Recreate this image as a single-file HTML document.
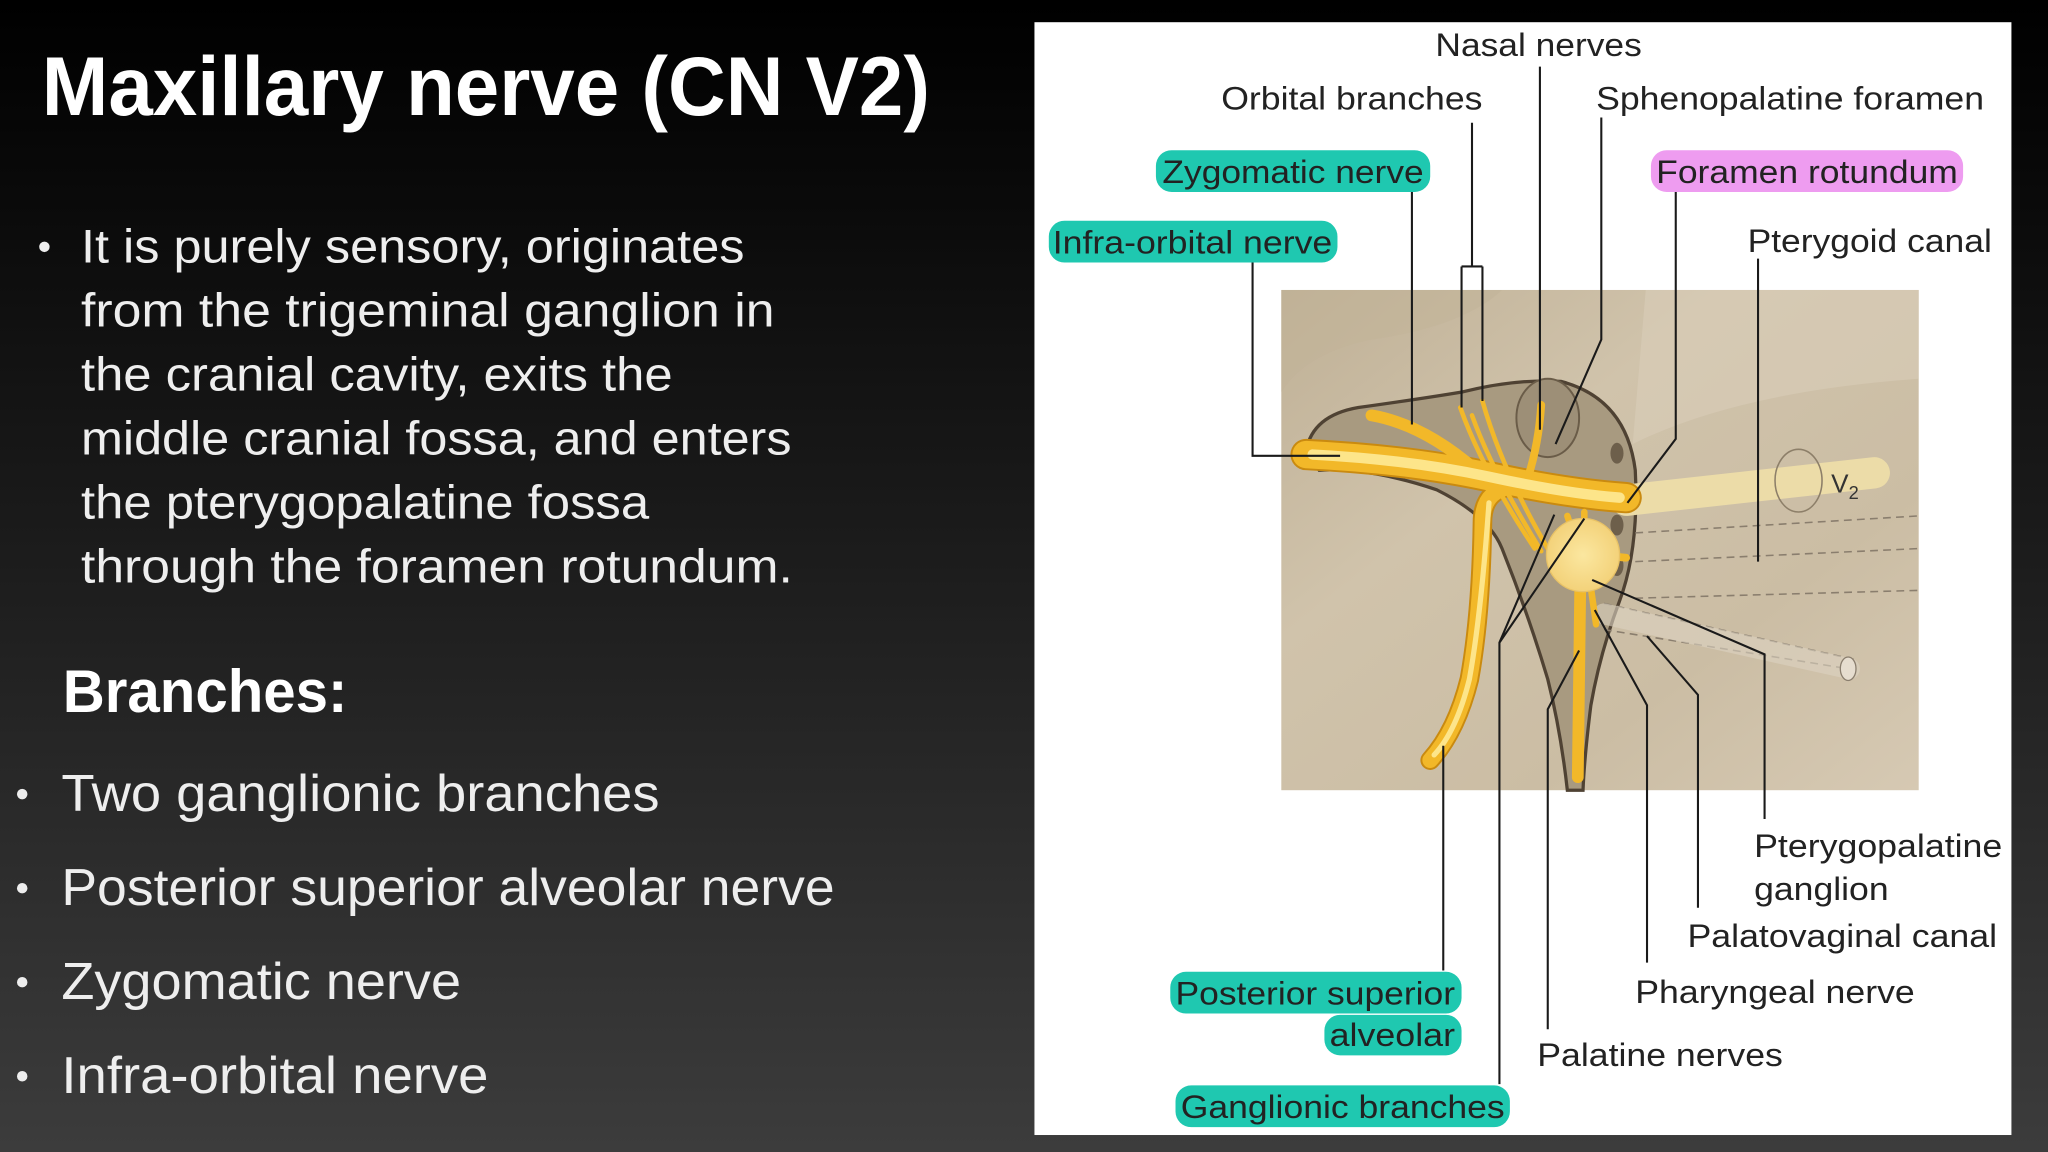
<!DOCTYPE html>
<html><head><meta charset="utf-8"><style>
html,body{margin:0;padding:0;background:#000;}
svg{display:block;}
</style></head><body>
<svg width="2048" height="1152" viewBox="0 0 1568 882" xmlns="http://www.w3.org/2000/svg" font-family="Liberation Sans, Arial, sans-serif">
<defs>
<linearGradient id="bg" x1="0" y1="0" x2="0" y2="1">
<stop offset="0" stop-color="#000"/><stop offset="0.5" stop-color="#1d1d1d"/><stop offset="1" stop-color="#3c3c3c"/>
</linearGradient>
<linearGradient id="ph" x1="0" y1="0" x2="1" y2="1">
<stop offset="0" stop-color="#bfb096"/><stop offset="0.35" stop-color="#d0c3ab"/><stop offset="0.7" stop-color="#cbbda4"/><stop offset="1" stop-color="#d6c9b3"/>
</linearGradient>
<radialGradient id="gang" cx="0.5" cy="0.5" r="0.5"><stop offset="0" stop-color="#fbe7a0"/><stop offset="1" stop-color="#f3d27a"/></radialGradient>
</defs>
<rect width="1568" height="882" fill="url(#bg)"/>
<text x="32" y="88" fill="#fff" font-size="64" font-weight="bold" textLength="680" lengthAdjust="spacingAndGlyphs">Maxillary nerve (CN V2)</text>
<g fill="#eeeeee" font-size="36">
<circle cx="34" cy="189" r="4"/>
<text x="62" y="201" textLength="508" lengthAdjust="spacingAndGlyphs">It is purely sensory, originates</text>
<text x="62" y="250" textLength="531" lengthAdjust="spacingAndGlyphs">from the trigeminal ganglion in</text>
<text x="62" y="299" textLength="453" lengthAdjust="spacingAndGlyphs">the cranial cavity, exits the</text>
<text x="62" y="348" textLength="544" lengthAdjust="spacingAndGlyphs">middle cranial fossa, and enters</text>
<text x="62" y="397" textLength="435" lengthAdjust="spacingAndGlyphs">the pterygopalatine fossa</text>
<text x="62" y="446" textLength="545" lengthAdjust="spacingAndGlyphs">through the foramen rotundum.</text>
</g>
<text x="48" y="545" fill="#fff" font-size="46" font-weight="bold" textLength="218" lengthAdjust="spacingAndGlyphs">Branches:</text>
<g fill="#eeeeee" font-size="40">
<circle cx="17" cy="608" r="4"/><text x="47" y="621" textLength="458" lengthAdjust="spacingAndGlyphs">Two ganglionic branches</text>
<circle cx="17" cy="680" r="4"/><text x="47" y="693" textLength="592" lengthAdjust="spacingAndGlyphs">Posterior superior alveolar nerve</text>
<circle cx="17" cy="752" r="4"/><text x="47" y="765" textLength="306" lengthAdjust="spacingAndGlyphs">Zygomatic nerve</text>
<circle cx="17" cy="824" r="4"/><text x="47" y="837" textLength="327" lengthAdjust="spacingAndGlyphs">Infra-orbital nerve</text>
</g>
<rect x="792" y="17" width="748" height="852" fill="#fff"/>
<rect x="981" y="222" width="488" height="383" fill="url(#ph)"/>
<path d="M981 222 L1150 222 Q1120 250 1050 260 Q1000 270 981 300Z" fill="#c2b398" opacity="0.5"/>
<path d="M1250 340 Q1330 300 1469 290 L1469 222 L1260 222 Z" fill="#dbd0bb" opacity="0.5"/>
<path d="M1000 345 Q1005 318 1040 312 Q1090 305 1120 300 Q1160 290 1195 292 Q1245 305 1252 360 Q1255 420 1240 460 Q1225 500 1218 540 Q1213 580 1212 605 L1200 605 Q1195 560 1185 520 Q1170 470 1150 420 Q1140 395 1100 375 Q1050 358 1010 360 Z" fill="#a89a80" stroke="#4f4233" stroke-width="2.5"/>
<ellipse cx="1185" cy="320" rx="24" ry="30" fill="#9d8f77" stroke="#6a5c48" stroke-width="1.5"/>
<ellipse cx="1238" cy="347" rx="5" ry="8" fill="#6d5f4b"/>
<ellipse cx="1238" cy="402" rx="5" ry="8" fill="#6d5f4b"/>
<ellipse cx="1238" cy="433" rx="5" ry="8" fill="#6d5f4b"/>
<path d="M1245 383 L1435 362" stroke="#ecdca8" stroke-width="24" stroke-linecap="round"/>
<ellipse cx="1377" cy="368" rx="18" ry="24" fill="none" stroke="#8d7f69" stroke-width="1.2"/>
<text x="1402" y="377" font-size="20" fill="#333">V<tspan font-size="14" dy="5">2</tspan></text>
<path d="M1252 408 L1469 395 M1252 430 L1469 420 M1252 458 L1469 452" stroke="#8a7e6e" stroke-width="1.2" stroke-dasharray="6 4" fill="none"/>
<path d="M1228 482 L1415 512 M1228 462 L1420 505" stroke="#8a7e6e" stroke-width="1.2" stroke-dasharray="6 4" fill="none"/>
<path d="M1228 470 L1416 512" stroke="#ddd3c2" stroke-width="16" stroke-linecap="round" opacity="0.6"/>
<ellipse cx="1415" cy="512" rx="6" ry="9" fill="#e6ddcf" stroke="#8a7e6e"/>
<g fill="none" stroke-linecap="round" stroke="#c98a10">
<path d="M1000 348 Q1080 352 1140 365 Q1200 378 1245 381" stroke-width="24"/>
<path d="M1165 372 Q1135 372 1135 400 Q1134 470 1125 520 Q1115 560 1095 582" stroke-width="15"/>
</g>
<g fill="none" stroke-linecap="round" stroke="#f2b829">
<path d="M1000 348 Q1080 352 1140 365 Q1200 378 1245 381" stroke-width="21"/>
<path d="M1050 318 Q1090 325 1130 360" stroke-width="9"/>
<path d="M1118 312 Q1135 360 1175 420 M1135 307 Q1150 360 1185 420 M1127 318 Q1142 360 1180 422" stroke-width="3.5"/>
<path d="M1180 310 Q1178 340 1170 365" stroke-width="6"/>
<path d="M1165 372 Q1135 372 1135 400 Q1134 470 1125 520 Q1115 560 1095 582" stroke-width="12"/>
<path d="M1210 440 L1208 595" stroke-width="9"/>
<path d="M1218 450 L1222 478" stroke-width="5"/>
<path d="M1200 395 L1205 410 M1213 392 L1213 410" stroke-width="5"/>
<path d="M1225 425 L1245 427" stroke-width="6"/>
</g>
<g fill="none" stroke-linecap="round" stroke="#fde58a">
<path d="M1005 348 Q1080 352 1140 365 Q1200 378 1240 381" stroke-width="8"/>
<path d="M1140 385 Q1134 470 1125 520 Q1115 560 1098 578" stroke-width="4"/>
</g>
<circle cx="1212" cy="425" r="28" fill="url(#gang)" stroke="#e8c266" stroke-width="1"/>
<g stroke="#1a1a1a" stroke-width="1.6" fill="none">
<path d="M959 200 V349 H1026"/>
<path d="M1081 147 V325"/>
<path d="M1127 94 V204 M1119 204 H1135 M1119 204 V312 M1135 204 V307"/>
<path d="M1179 51 V329"/>
<path d="M1226 90 V260 L1191 340"/>
<path d="M1283 147 V336 L1246 385"/>
<path d="M1346 198 V430"/>
<path d="M1351 627 V501 L1219 444"/>
<path d="M1300 695 V532 L1261 487"/>
<path d="M1261 737 V540 L1221 467"/>
<path d="M1185 788 V543 L1209 498"/>
<path d="M1148 830 V492 L1190 394 M1148 492 L1213 397"/>
<path d="M1105 743 V571"/>
</g>
<g font-size="25" fill="#222">
<text x="1099" y="43" textLength="158" lengthAdjust="spacingAndGlyphs">Nasal nerves</text>
<text x="935" y="84" textLength="200" lengthAdjust="spacingAndGlyphs">Orbital branches</text>
<text x="1222" y="84" textLength="297" lengthAdjust="spacingAndGlyphs">Sphenopalatine foramen</text>
<rect x="885" y="115" width="210" height="32" rx="12" fill="#1fc8b0"/>
<text x="890" y="140" textLength="200" lengthAdjust="spacingAndGlyphs">Zygomatic nerve</text>
<rect x="1264" y="115" width="239" height="32" rx="12" fill="#ee9cf0"/>
<text x="1268" y="140" textLength="231" lengthAdjust="spacingAndGlyphs">Foramen rotundum</text>
<rect x="803" y="169" width="221" height="32" rx="12" fill="#1fc8b0"/>
<text x="806" y="194" textLength="214" lengthAdjust="spacingAndGlyphs">Infra-orbital nerve</text>
<text x="1338" y="193" textLength="187" lengthAdjust="spacingAndGlyphs">Pterygoid canal</text>
<text x="1343" y="656" textLength="190" lengthAdjust="spacingAndGlyphs">Pterygopalatine</text>
<text x="1343" y="689" textLength="103" lengthAdjust="spacingAndGlyphs">ganglion</text>
<text x="1292" y="725" textLength="237" lengthAdjust="spacingAndGlyphs">Palatovaginal canal</text>
<text x="1252" y="768" textLength="214" lengthAdjust="spacingAndGlyphs">Pharyngeal nerve</text>
<text x="1177" y="816" textLength="188" lengthAdjust="spacingAndGlyphs">Palatine nerves</text>
<rect x="896" y="744" width="223" height="32" rx="12" fill="#1fc8b0"/>
<text x="900" y="769" textLength="214" lengthAdjust="spacingAndGlyphs">Posterior superior</text>
<rect x="1014" y="777" width="105" height="31" rx="12" fill="#1fc8b0"/>
<text x="1018" y="801" textLength="96" lengthAdjust="spacingAndGlyphs">alveolar</text>
<rect x="900" y="831" width="256" height="32" rx="12" fill="#1fc8b0"/>
<text x="904" y="856" textLength="248" lengthAdjust="spacingAndGlyphs">Ganglionic branches</text>
</g>
</svg>
</body></html>
